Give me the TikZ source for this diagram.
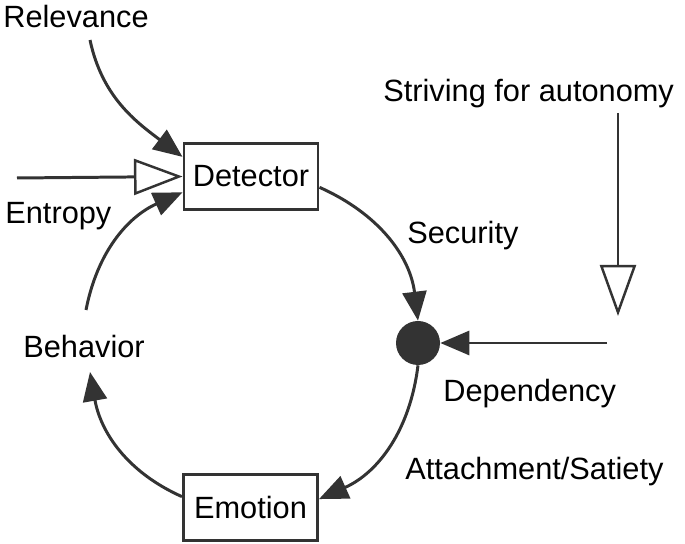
\documentclass[tikz,border=0pt]{standalone}
\usepackage{fontspec}
\setmainfont{Liberation Sans}
\usetikzlibrary{arrows.meta}

\begin{document}
\begin{tikzpicture}[
  box/.style={rectangle, draw=black!80, line width=1.7pt, fill=white,
              minimum width=2.68cm, minimum height=1.32cm, inner sep=0pt,
              font=\fontsize{17.5}{21}\selectfont},
  lbl/.style={anchor=base west, inner sep=0pt,
              font=\fontsize{17.5}{21}\selectfont},
  hub/.style={circle, fill=black!80, minimum size=0.88cm, inner sep=0pt},
  arrow/.style={-{Triangle[length=0.58cm, width=0.48cm]}, line width=1.7pt, color=black!80},
  openarrow/.style={-{Triangle[open, length=#1, width=0.72cm, line width=1.4pt]},
                    line width=1.7pt, color=black!80}
]
  \useasboundingbox (0,0) rectangle (13.7,10.88);

  \node[box] (det) at (5.02,7.35) {Detector};
  \node[box] (emo) at (5.01,0.73) {Emotion};
  \node[hub] (dot) at (8.36,4.02) {};

  \node[lbl] (rel)  at (0.06,10.32) {Relevance};
  \node[lbl] (ent)  at (0.10,6.40)  {Entropy};
  \node[lbl] (str)  at (7.66,8.84)  {Striving for autonomy};
  \node[lbl] (sec)  at (8.14,6.00)  {Security};
  \node[lbl] (beh)  at (0.46,3.72)  {Behavior};
  \node[lbl] (dep)  at (8.86,2.84)  {Dependency};
  \node[lbl] (att)  at (8.10,1.28)  {Attachment/Satiety};

  \coordinate (rel-s) at (1.80,10.08);
  \coordinate (ent-s) at (0.34,7.32);
  \coordinate (str-s) at (12.36,8.62);
  \coordinate (str-e) at (12.36,4.56);
  \coordinate (dep-s) at (12.14,4.02);
  \coordinate (beh-e) at (1.80,3.44);
  \coordinate (beh-s) at (1.72,4.68);

  \draw[arrow] (rel-s) to[out=-78, in=143] (det.164);
  \draw[openarrow=0.97cm] (ent-s) -- (det.west);
  \draw[openarrow=1.02cm] (str-s) -- (str-e);
  \draw[arrow] (dep-s) -- (dot.east);

  \draw[arrow] (det.-9) to[out=-24, in=97] (dot.north);
  \draw[arrow] (dot.south) to[out=-97, in=24] (emo.7);
  \draw[arrow] (emo.171) to[out=156, in=-80] (beh-e);
  \draw[arrow] (beh-s) to[out=79, in=-156] (det.193);
\end{tikzpicture}
\end{document}
